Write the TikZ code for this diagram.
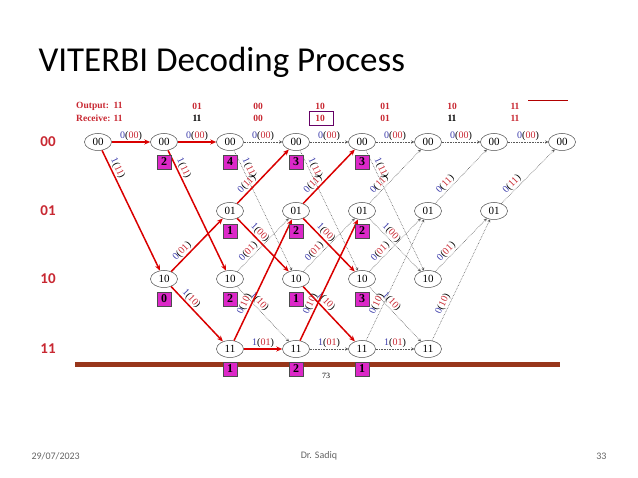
\documentclass[tikz,border=0pt]{standalone}
\usepackage{fontspec}
\setmainfont{Liberation Serif}
\newfontfamily\calfont{Carlito}
\usetikzlibrary{arrows.meta,shapes.geometric}
\definecolor{lred}{RGB}{200,40,50}
\definecolor{lblue}{RGB}{60,60,170}
\definecolor{mag}{RGB}{220,40,200}
\definecolor{gr}{RGB}{100,100,100}
\begin{document}
\begin{tikzpicture}[x=1pt,y=-1pt,
 st/.style={ellipse,draw=black!70,line width=0.5pt,inner sep=0pt,minimum width=27pt,minimum height=17pt,font=\fontsize{11}{11}\selectfont,fill=white},
 surv/.style={draw=red!85!black,line width=1.5pt,-{Stealth[length=6pt,width=5pt]}},
 alt/.style={draw=black!65,densely dotted,line width=0.6pt,-{Stealth[length=3pt,width=3pt]}},
 lab/.style={sloped,above,inner sep=1pt,font=\fontsize{10}{10}\selectfont},
 mbox/.style={draw=black!70,fill=mag,minimum width=14pt,minimum height=14pt,inner sep=0pt,font=\bfseries\fontsize{12}{12}\selectfont},
 hd/.style={font=\bfseries\fontsize{9.5}{10}\selectfont,text=lred,inner sep=0pt},
 row/.style={font=\calfont\bfseries\fontsize{15}{15}\selectfont,text=lred}]
\useasboundingbox (0,0) rectangle (638,478);
\newcommand{\LL}[2]{{\color{lblue}#1}({\color{lred}#2})}
\node[anchor=west,font=\calfont\fontsize{35}{35}\selectfont] (title) at (35,62) {VITERBI Decoding Process};
% bottom bar
\fill[brown!60!red!70!black] (75,362) rectangle (560,367);
\draw[red!70!black,line width=1pt] (528,101) -- (568,101);
\node[font=\fontsize{8}{8}\selectfont] (pg) at (326,376) {73};
% header
\node[hd,anchor=west] (ho) at (76,106) {Output:\ \ 11};
\node[hd,anchor=west] (hr) at (76,118) {Receive: 11};
\foreach \x/\o/\r [count=\i] in {197/01/11,258/00/00,320/10/10,385/01/01,452/10/11,515/11/11}{
 \node[hd] (o\i) at (\x,106) {\o};
 \node[hd] (r\i) at (\x,118) {\r};}
\node[hd,text=black,fill=white] (r1b) at (197,118) {11};
\node[hd,text=black,fill=white] (r5b) at (452,118) {11};
\draw[violet!80!black,line width=0.8pt] (309,111) rectangle (333,125);
% row labels
\foreach \t/\y in {00/142,01/211,10/279,11/349}{\node[row] (L\t) at (48,\y) {\t};}
% states
\foreach \i/\x in {0/98,1/164,2/230,3/296,4/362,5/428,6/494,7/562}{\node[st] (a\i) at (\x,142) {00};}
\foreach \i/\x in {2/230,3/296,4/362,5/428,6/494}{\node[st] (b\i) at (\x,211) {01};}
\foreach \i/\x in {1/164,2/230,3/296,4/362,5/428}{\node[st] (c\i) at (\x,279) {10};}
\foreach \i/\x in {2/230,3/296,4/362,5/428}{\node[st] (d\i) at (\x,349) {11};}
% edges t0-t1
\draw[surv] (a0) -- node[lab,pos=0.5] {\LL{0}{00}} (a1);
\draw[surv] (a0) -- node[lab,pos=0.17] {\LL{1}{11}} (c1);
% t1-t2
\draw[surv] (a1) -- node[lab,pos=0.5] {\LL{0}{00}} (a2);
\draw[surv] (a1) -- node[lab,pos=0.17] {\LL{1}{11}} (c2);
\draw[surv] (c1) -- node[lab,pos=0.3] {\LL{0}{01}} (b2);
\draw[surv] (c1) -- node[lab,pos=0.3] {\LL{1}{10}} (d2);
% t2-t3
\draw[alt] (a2) -- node[lab,pos=0.5] {\LL{0}{00}} (a3);
\draw[alt] (a2) -- node[lab,pos=0.17] {\LL{1}{11}} (c3);
\draw[surv] (b2) -- node[lab,pos=0.28] {\LL{0}{11}} (a3);
\draw[surv] (b2) -- node[lab,pos=0.35] {\LL{1}{00}} (c3);
\draw[alt] (c2) -- node[lab,pos=0.3] {\LL{0}{01}} (b3);
\draw[alt] (c2) -- node[lab,pos=0.35] {\LL{1}{10}} (d3);
\draw[surv] (d2) -- node[lab,pos=0.28] {\LL{0}{10}} (b3);
\draw[surv] (d2) -- node[lab,pos=0.5] {\LL{1}{01}} (d3);
% t3-t4
\draw[alt] (a3) -- node[lab,pos=0.5] {\LL{0}{00}} (a4);
\draw[alt] (a3) -- node[lab,pos=0.17] {\LL{1}{11}} (c4);
\draw[surv] (b3) -- node[lab,pos=0.28] {\LL{0}{11}} (a4);
\draw[surv] (b3) -- node[lab,pos=0.35] {\LL{1}{00}} (c4);
\draw[alt] (c3) -- node[lab,pos=0.3] {\LL{0}{01}} (b4);
\draw[surv] (c3) -- node[lab,pos=0.35] {\LL{1}{10}} (d4);
\draw[surv] (d3) -- node[lab,pos=0.28] {\LL{0}{10}} (b4);
\draw[alt] (d3) -- node[lab,pos=0.5] {\LL{1}{01}} (d4);
% t4-t5
\draw[alt] (a4) -- node[lab,pos=0.5] {\LL{0}{00}} (a5);
\draw[alt] (a4) -- node[lab,pos=0.17] {\LL{1}{11}} (c5);
\draw[alt] (b4) -- node[lab,pos=0.28] {\LL{0}{11}} (a5);
\draw[alt] (b4) -- node[lab,pos=0.35] {\LL{1}{00}} (c5);
\draw[alt] (c4) -- node[lab,pos=0.3] {\LL{0}{01}} (b5);
\draw[alt] (c4) -- node[lab,pos=0.35] {\LL{1}{10}} (d5);
\draw[alt] (d4) -- node[lab,pos=0.28] {\LL{0}{10}} (b5);
\draw[alt] (d4) -- node[lab,pos=0.5] {\LL{1}{01}} (d5);
% t5-t6
\draw[alt] (a5) -- node[lab,pos=0.5] {\LL{0}{00}} (a6);
\draw[alt] (b5) -- node[lab,pos=0.28] {\LL{0}{11}} (a6);
\draw[alt] (c5) -- node[lab,pos=0.3] {\LL{0}{01}} (b6);
\draw[alt] (d5) -- node[lab,pos=0.28] {\LL{0}{10}} (b6);
% t6-t7
\draw[alt] (a6) -- node[lab,pos=0.5] {\LL{0}{00}} (a7);
\draw[alt] (b6) -- node[lab,pos=0.28] {\LL{0}{11}} (a7);
% metric boxes
\foreach \n/\v in {a1/2,a2/4,a3/3,a4/3,b2/1,b3/2,b4/2,c1/0,c2/2,c3/1,c4/3,d2/1,d3/2,d4/1}{
 \node[mbox] (m\n) at ([yshift=-20pt]\n.center) {\v};}
% footer
\node[anchor=west,font=\calfont\fontsize{10}{10}\selectfont,text=gr] (f1) at (28,456) {29/07/2023};
\node[font=\calfont\fontsize{10}{10}\selectfont,text=gr] (f2) at (319,456) {Dr. Sadiq};
\node[anchor=east,font=\calfont\fontsize{10}{10}\selectfont,text=gr] (f3) at (610,456) {33};
\end{tikzpicture}
\end{document}
